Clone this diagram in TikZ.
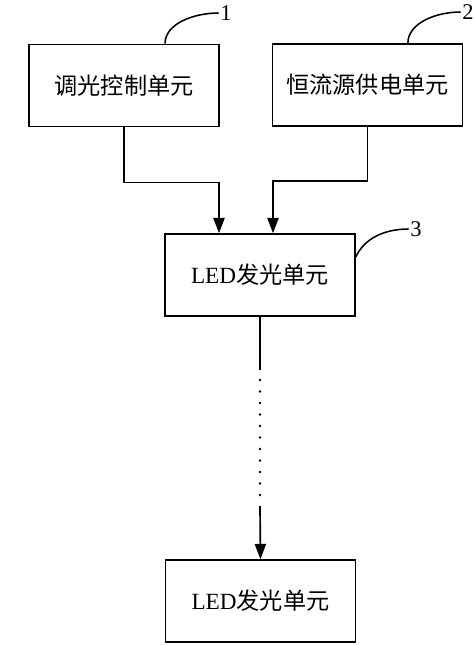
\documentclass[tikz,border=0pt]{standalone}
\usepackage{fontspec}
\setmainfont{Liberation Serif}
\newfontfamily\cjk{Noto Sans CJK SC}
\usetikzlibrary{arrows.meta}

\begin{document}
\begin{tikzpicture}[
	x=0.25mm, y=-0.25mm,
	unit/.style = {draw, line width=1.2pt, minimum width=47.5mm, minimum height=20.5mm, align=center, font=\cjk\fontsize{16.5}{19}\selectfont},
	arr/.style = {-{Triangle[length=3.8mm,width=2.8mm]}, line width=1.2pt},
	tag/.style = {font=\fontsize{16}{18}\selectfont, inner sep=1pt},
	lead/.style = {line width=1.1pt},
	dots/.style = {line width=2pt, line cap=round, dash pattern=on 0pt off 2.875mm}
	]
	\useasboundingbox (0,0) rectangle (474,645);
	
	% Top units
	\node[unit] (dim) at (124,85.5) {调光控制单元};
	\node[unit] (power) at (367.5,85) {恒流源供电单元};
	
	% LED units
	\node[unit] (led) at (260,275) {\rmfamily LED\cjk 发光单元};
	\node[unit] (ledn) at (260.5,601) {\rmfamily LED\cjk 发光单元};
	
	% Reference numbers
	\node[tag] (t1) at (226,13) {1};
	\node[tag] (t2) at (468,12) {2};
	\node[tag] (t3) at (416,229) {3};
	\draw[lead] ([xshift=10.25mm]dim.north) .. controls +(0,-20) and +(-25,0) .. (t1.west);
	\draw[lead] ([xshift=10.1mm]power.north) .. controls +(0,-20) and +(-25,0) .. (t2.west);
	\draw[lead] ([yshift=4.5mm]led.east) .. controls +(8,-18) and +(-25,0) .. (t3.west);
	
	% Inputs to LED unit
	\draw[arr] (dim.south) -- ++(0,55) -| ([xshift=-10.25mm]led.north);
	\draw[arr] (power.south) -- ++(0,54) -| ([xshift=3.25mm]led.north);
	
	% Chain of LED units
	\coordinate (sTop) at (260,370);
	\coordinate (dTop) at (260,380);
	\coordinate (dBot) at (260,495.5);
	\coordinate (sBot) at (260,506);
	\draw[line width=1.2pt] (led.south) -- (sTop);
	\draw[dots] (dTop) -- (dBot);
	\draw[arr] (sBot) -- (ledn.north);
	
\end{tikzpicture}
\end{document}
